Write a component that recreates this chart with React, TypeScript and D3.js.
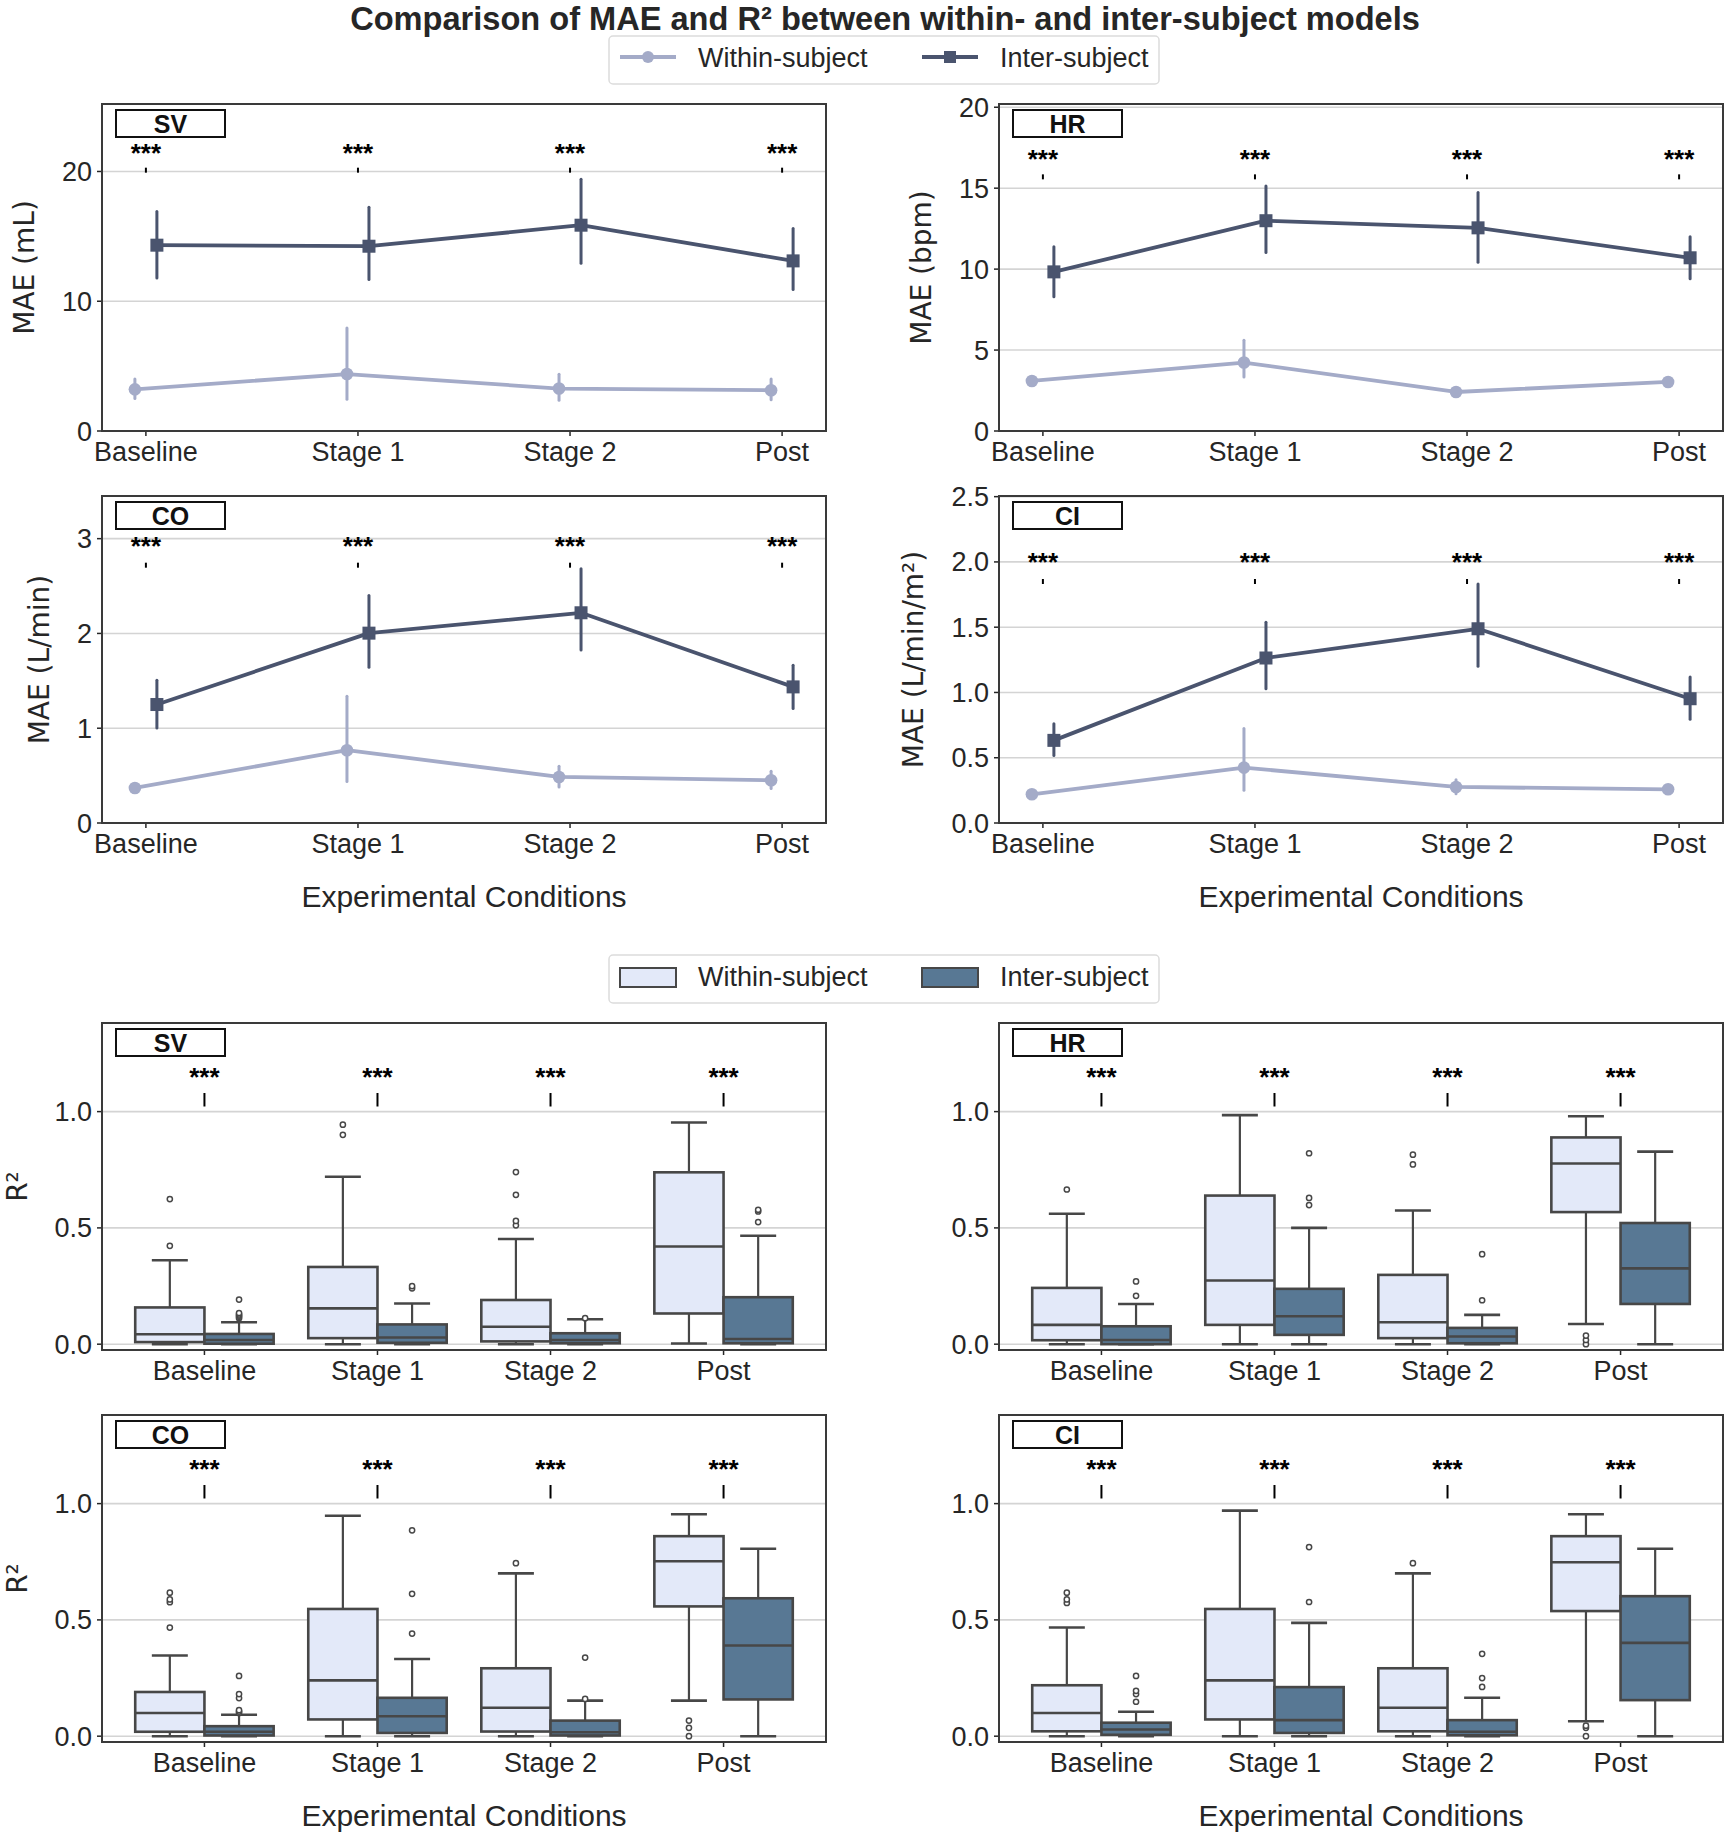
import React, { useEffect, useRef } from 'react';
import * as d3 from 'd3';

const conditions = ['Baseline', 'Stage 1', 'Stage 2', 'Post'];
const groups = ['Within-subject', 'Inter-subject'];

// MAE means with 95% CI bounds, per condition
const svWithinMae = [3.21, 4.39, 3.27, 3.14];
const svWithinLo = [2.5, 2.44, 2.37, 2.4];
const svWithinHi = [4.0, 7.94, 4.37, 4.0];
const svInterMae = [14.32, 14.24, 15.86, 13.11];
const svInterLo = [11.8, 11.67, 12.93, 10.9];
const svInterHi = [16.92, 17.25, 19.4, 15.6];

const hrWithinMae = [3.09, 4.23, 2.41, 3.03];
const hrWithinLo = [2.85, 3.34, 2.25, 2.85];
const hrWithinHi = [3.3, 5.61, 2.55, 3.2];
const hrInterMae = [9.83, 12.99, 12.55, 10.7];
const hrInterLo = [8.29, 11.03, 10.43, 9.4];
const hrInterHi = [11.38, 15.13, 14.74, 12.0];

const coWithinMae = [0.37, 0.768, 0.486, 0.451];
const coWithinLo = [0.35, 0.437, 0.38, 0.363];
const coWithinHi = [0.4, 1.338, 0.599, 0.546];
const coInterMae = [1.25, 2.003, 2.218, 1.436];
const coInterLo = [1.003, 1.644, 1.824, 1.208];
const coInterHi = [1.507, 2.401, 2.682, 1.665];

const ciWithinMae = [0.22, 0.424, 0.276, 0.258];
const ciWithinLo = [0.205, 0.25, 0.225, 0.24];
const ciWithinHi = [0.235, 0.723, 0.332, 0.275];
const ciInterMae = [0.633, 1.264, 1.488, 0.952];
const ciInterLo = [0.518, 1.029, 1.2, 0.794];
const ciInterHi = [0.761, 1.537, 1.83, 1.118];

// R² box stats per condition: [whisker low, Q1, median, Q3, whisker high]
const svR2Within = [
  [0, 0.009, 0.043, 0.158, 0.361],
  [0, 0.026, 0.154, 0.332, 0.72],
  [0, 0.012, 0.075, 0.19, 0.452],
  [0.003, 0.132, 0.42, 0.739, 0.953],
];
const svR2WithinOut = [[0.423, 0.624], [0.9, 0.944], [0.511, 0.53, 0.642, 0.74], []];
const svR2Inter = [
  [0, 0.002, 0.018, 0.044, 0.094],
  [0, 0.006, 0.029, 0.085, 0.175],
  [0, 0.004, 0.018, 0.047, 0.107],
  [0, 0.004, 0.022, 0.202, 0.466],
];
const svR2InterOut = [[0.112, 0.118, 0.123, 0.128, 0.134, 0.192], [0.24, 0.25], [0.112], [0.525, 0.571, 0.578]];

const hrR2Within = [
  [0, 0.017, 0.083, 0.242, 0.561],
  [0, 0.083, 0.274, 0.639, 0.985],
  [0, 0.026, 0.094, 0.298, 0.575],
  [0.087, 0.568, 0.777, 0.889, 0.98],
];
const hrR2WithinOut = [[0.665], [], [0.773, 0.815], [0.0, 0.018, 0.037]];
const hrR2Inter = [
  [0, 0.0, 0.018, 0.077, 0.173],
  [0, 0.04, 0.12, 0.238, 0.5],
  [0, 0.004, 0.033, 0.07, 0.126],
  [0, 0.173, 0.326, 0.521, 0.828],
];
const hrR2InterOut = [[0.208, 0.27], [0.598, 0.629, 0.821], [0.189, 0.387], []];

const coR2Within = [
  [0, 0.019, 0.1, 0.19, 0.347],
  [0, 0.072, 0.24, 0.547, 0.948],
  [0, 0.02, 0.122, 0.292, 0.7],
  [0.153, 0.558, 0.752, 0.86, 0.954],
];
const coR2WithinOut = [[0.467, 0.576, 0.588, 0.617], [], [0.744], [0, 0.036, 0.067]];
const coR2Inter = [
  [0, 0.003, 0.019, 0.043, 0.092],
  [0, 0.014, 0.086, 0.165, 0.332],
  [0, 0.003, 0.017, 0.067, 0.153],
  [0, 0.158, 0.39, 0.593, 0.806],
];
const coR2InterOut = [[0.1, 0.106, 0.112, 0.164, 0.181, 0.259], [0.441, 0.612, 0.885], [0.16, 0.338], []];

const ciR2Within = [
  [0, 0.021, 0.1, 0.219, 0.467],
  [0, 0.072, 0.24, 0.547, 0.97],
  [0, 0.021, 0.122, 0.292, 0.7],
  [0.064, 0.538, 0.748, 0.86, 0.954],
];
const ciR2WithinOut = [[0.573, 0.588, 0.617], [], [0.744], [0, 0.036, 0.045]];
const ciR2Inter = [
  [0, 0.006, 0.029, 0.058, 0.105],
  [0, 0.014, 0.069, 0.211, 0.487],
  [0, 0.004, 0.019, 0.069, 0.165],
  [0, 0.155, 0.401, 0.602, 0.806],
];
const ciR2InterOut = [[0.148, 0.181, 0.195, 0.259], [0.577, 0.813], [0.212, 0.25, 0.354], []];

const W = 1725;
const H = 1833;
const PW = 724;
const PH = 327;
const SANS = '"Liberation Sans", Arial, Helvetica, sans-serif';
const DEJAVU = '"DejaVu Sans", sans-serif';
const INK = '#262626';
const lineColors = ['#a4abc8', '#4a546e'];
const boxFills = ['#e3e9f9', '#587894'];
const EDGE = '#474747';
const GRID = '#d4d4d4';

const maePanels = [
  { name: 'SV', left: 102, top: 104, yMax: 25.2, ticks: [0, 10, 20], fmt: d3.format('d'), ylabel: 'MAE (mL)', labelX: 34, starY: 21.7, markY: 20.1, xlabel: false,
    mean: [svWithinMae, svInterMae], lo: [svWithinLo, svInterLo], hi: [svWithinHi, svInterHi] },
  { name: 'HR', left: 999, top: 104, yMax: 20.2, ticks: [0, 5, 10, 15, 20], fmt: d3.format('d'), ylabel: 'MAE (bpm)', labelX: 931, starY: 17.05, markY: 15.7, xlabel: false,
    mean: [hrWithinMae, hrInterMae], lo: [hrWithinLo, hrInterLo], hi: [hrWithinHi, hrInterHi] },
  { name: 'CO', left: 102, top: 496, yMax: 3.45, ticks: [0, 1, 2, 3], fmt: d3.format('d'), ylabel: 'MAE (L/min)', labelX: 49, starY: 2.96, markY: 2.72, xlabel: true,
    mean: [coWithinMae, coInterMae], lo: [coWithinLo, coInterLo], hi: [coWithinHi, coInterHi] },
  { name: 'CI', left: 999, top: 496, yMax: 2.505, ticks: [0, 0.5, 1, 1.5, 2, 2.5], fmt: d3.format('.1f'), ylabel: 'MAE (L/min/m²)', labelX: 923, starY: 2.03, markY: 1.85, xlabel: true,
    mean: [ciWithinMae, ciInterMae], lo: [ciWithinLo, ciInterLo], hi: [ciWithinHi, ciInterHi] },
];

const boxPanels = [
  { name: 'SV', left: 102, top: 1023, ylabel: true, xlabel: false, stats: [svR2Within, svR2Inter], out: [svR2WithinOut, svR2InterOut] },
  { name: 'HR', left: 999, top: 1023, ylabel: false, xlabel: false, stats: [hrR2Within, hrR2Inter], out: [hrR2WithinOut, hrR2InterOut] },
  { name: 'CO', left: 102, top: 1415, ylabel: true, xlabel: true, stats: [coR2Within, coR2Inter], out: [coR2WithinOut, coR2InterOut] },
  { name: 'CI', left: 999, top: 1415, ylabel: false, xlabel: true, stats: [ciR2Within, ciR2Inter], out: [ciR2WithinOut, ciR2InterOut] },
];

function drawAxesCommon(g, x, y, ticks, fmt) {
  g.selectAll('.grid').data(ticks).enter().append('line')
    .attr('x1', 0).attr('x2', PW)
    .attr('y1', d => y(d)).attr('y2', d => y(d))
    .attr('stroke', GRID).attr('stroke-width', 1.6);

  g.selectAll('.ytick').data(ticks).enter().append('line')
    .attr('x1', -5).attr('x2', 0)
    .attr('y1', d => y(d)).attr('y2', d => y(d))
    .attr('stroke', INK).attr('stroke-width', 1.5);
  g.selectAll('.ylab').data(ticks).enter().append('text')
    .attr('x', -10).attr('y', d => y(d) + 9.5)
    .attr('text-anchor', 'end')
    .style('font-family', SANS).style('font-size', '27px').style('fill', INK)
    .text(d => fmt(d));

  g.selectAll('.xtick').data(conditions).enter().append('line')
    .attr('x1', d => x(d)).attr('x2', d => x(d))
    .attr('y1', PH).attr('y2', PH + 5)
    .attr('stroke', INK).attr('stroke-width', 1.5);
  g.selectAll('.xlab').data(conditions).enter().append('text')
    .attr('x', d => x(d)).attr('y', PH + 29.5)
    .attr('text-anchor', 'middle')
    .style('font-family', SANS).style('font-size', '27px').style('fill', INK)
    .text(d => d);
}

function drawFrameAndTag(g, name) {
  g.append('rect')
    .attr('x', 0).attr('y', 0).attr('width', PW).attr('height', PH)
    .attr('fill', 'none').attr('stroke', '#3a3a3a').attr('stroke-width', 2);
  g.append('rect')
    .attr('x', 14).attr('y', 6).attr('width', 109).attr('height', 27)
    .attr('fill', 'white').attr('stroke', '#111').attr('stroke-width', 2);
  g.append('text')
    .attr('x', 68.5).attr('y', 29)
    .attr('text-anchor', 'middle')
    .style('font-family', SANS).style('font-size', '25px').style('font-weight', 'bold').style('fill', '#111')
    .text(name);
}

function drawStars(g, x, starPx, markTop, markBottom) {
  conditions.forEach(c => {
    g.append('text')
      .attr('x', x(c)).attr('y', starPx + 13)
      .attr('text-anchor', 'middle')
      .style('font-family', SANS).style('font-size', '26px').style('font-weight', 'bold').style('fill', '#000')
      .text('***');
    g.append('line')
      .attr('x1', x(c)).attr('x2', x(c))
      .attr('y1', markTop).attr('y2', markBottom)
      .attr('stroke', '#000').attr('stroke-width', 2);
  });
}

function drawXLabel(g) {
  g.append('text')
    .attr('x', PW / 2).attr('y', PH + 84)
    .attr('text-anchor', 'middle')
    .style('font-family', SANS).style('font-size', '30px').style('fill', INK)
    .text('Experimental Conditions');
}

function drawMaePanel(svg, p) {
  const g = svg.append('g').attr('transform', `translate(${p.left}, ${p.top})`);
  const x = d3.scalePoint().domain(conditions).range([0, PW]).padding(0.207);
  const y = d3.scaleLinear().domain([0, p.yMax]).range([PH, 0]);
  const dodge = [-11, 11];

  drawAxesCommon(g, x, y, p.ticks, p.fmt);

  groups.forEach((grp, gi) => {
    const color = lineColors[gi];
    const pts = conditions.map((c, i) => [x(c) + dodge[gi], y(p.mean[gi][i])]);
    g.append('path')
      .attr('d', d3.line()(pts))
      .attr('fill', 'none').attr('stroke', color).attr('stroke-width', 3.8)
      .attr('stroke-linejoin', 'round');
    conditions.forEach((c, i) => {
      g.append('line')
        .attr('x1', x(c) + dodge[gi]).attr('x2', x(c) + dodge[gi])
        .attr('y1', y(p.lo[gi][i])).attr('y2', y(p.hi[gi][i]))
        .attr('stroke', color).attr('stroke-width', 3).attr('stroke-linecap', 'round');
    });
    if (gi === 0) {
      g.selectAll(`.mk${gi}`).data(p.mean[gi]).enter().append('circle')
        .attr('cx', (d, i) => x(conditions[i]) + dodge[gi]).attr('cy', d => y(d))
        .attr('r', 6.3).attr('fill', color);
    } else {
      g.selectAll(`.mk${gi}`).data(p.mean[gi]).enter().append('rect')
        .attr('x', (d, i) => x(conditions[i]) + dodge[gi] - 6.5).attr('y', d => y(d) - 6.5)
        .attr('width', 13).attr('height', 13).attr('fill', color);
    }
  });

  drawFrameAndTag(g, p.name);
  drawStars(g, x, y(p.starY), y(p.markY) - 2.5, y(p.markY) + 2.5);

  g.append('text')
    .attr('transform', `translate(${p.labelX - p.left}, ${PH / 2}) rotate(-90)`)
    .attr('text-anchor', 'middle')
    .style('font-family', DEJAVU).style('font-size', '28px').style('fill', INK)
    .text(p.ylabel);

  if (p.xlabel) drawXLabel(g);
}

function drawBoxPanel(svg, p) {
  const g = svg.append('g').attr('transform', `translate(${p.left}, ${p.top})`);
  const x = d3.scalePoint().domain(conditions).range([0, PW]).padding(0.592);
  const y = d3.scaleLinear().domain([-0.025, 1.381]).range([PH, 0]);
  const bw = x.step() * 0.4;

  drawAxesCommon(g, x, y, [0, 0.5, 1], d3.format('.1f'));

  groups.forEach((grp, gi) => {
    conditions.forEach((c, i) => {
      const [lo, q1, med, q3, hi] = p.stats[gi][i];
      const x0 = x(c) + (gi === 0 ? -bw : 0);
      const cx = x0 + bw / 2;
      const cap = bw * 0.26;
      g.append('line').attr('x1', cx).attr('x2', cx).attr('y1', y(q3)).attr('y2', y(hi))
        .attr('stroke', EDGE).attr('stroke-width', 2.2);
      g.append('line').attr('x1', cx).attr('x2', cx).attr('y1', y(q1)).attr('y2', y(lo))
        .attr('stroke', EDGE).attr('stroke-width', 2.2);
      g.append('line').attr('x1', cx - cap).attr('x2', cx + cap).attr('y1', y(hi)).attr('y2', y(hi))
        .attr('stroke', EDGE).attr('stroke-width', 2.6);
      g.append('line').attr('x1', cx - cap).attr('x2', cx + cap).attr('y1', y(lo)).attr('y2', y(lo))
        .attr('stroke', EDGE).attr('stroke-width', 2.6);
      g.append('rect')
        .attr('x', x0).attr('y', y(q3)).attr('width', bw).attr('height', Math.max(0.5, y(q1) - y(q3)))
        .attr('fill', boxFills[gi]).attr('stroke', EDGE).attr('stroke-width', 2.6);
      g.append('line').attr('x1', x0).attr('x2', x0 + bw).attr('y1', y(med)).attr('y2', y(med))
        .attr('stroke', EDGE).attr('stroke-width', 2.6);
      g.selectAll(`.out${gi}${i}`).data(p.out[gi][i]).enter().append('circle')
        .attr('cx', cx).attr('cy', d => y(d)).attr('r', 2.6)
        .attr('fill', 'white').attr('stroke', EDGE).attr('stroke-width', 1.5);
    });
  });

  drawFrameAndTag(g, p.name);
  drawStars(g, x, y(1.166), y(1.08), y(1.022));

  if (p.ylabel) {
    g.append('text')
      .attr('transform', `translate(${27 - p.left}, ${PH / 2}) rotate(-90)`)
      .attr('text-anchor', 'middle')
      .style('font-family', DEJAVU).style('font-size', '28px').style('fill', INK)
      .text('R²');
  }
  if (p.xlabel) drawXLabel(g);
}

function drawLegend(svg, top, kind) {
  const g = svg.append('g').attr('transform', `translate(609, ${top})`);
  g.append('rect')
    .attr('x', 0).attr('y', 0).attr('width', 550).attr('height', 48).attr('rx', 4)
    .attr('fill', 'white').attr('stroke', '#dcdcdc').attr('stroke-width', 1.5);
  const handleX = [11, 313];
  groups.forEach((grp, gi) => {
    const hx = handleX[gi];
    if (kind === 'line') {
      g.append('line').attr('x1', hx).attr('x2', hx + 56).attr('y1', 21).attr('y2', 21)
        .attr('stroke', lineColors[gi]).attr('stroke-width', 3.8);
      if (gi === 0) {
        g.append('circle').attr('cx', hx + 28).attr('cy', 21).attr('r', 6).attr('fill', lineColors[gi]);
      } else {
        g.append('rect').attr('x', hx + 22).attr('y', 15).attr('width', 12).attr('height', 12).attr('fill', lineColors[gi]);
      }
    } else {
      g.append('rect').attr('x', hx).attr('y', 13).attr('width', 56).attr('height', 19)
        .attr('fill', boxFills[gi]).attr('stroke', EDGE).attr('stroke-width', 2);
    }
    g.append('text')
      .attr('x', hx + 78).attr('y', 31)
      .style('font-family', SANS).style('font-size', '27px').style('fill', INK)
      .text(grp);
  });
}

const App = () => {
  const ref = useRef(null);

  useEffect(() => {
    document.body.style.margin = '0';
    const svg = d3.select(ref.current);
    svg.selectAll('*').remove();

    svg.append('rect').attr('width', W).attr('height', H).attr('fill', 'white');

    svg.append('text')
      .attr('x', 885).attr('y', 30)
      .attr('text-anchor', 'middle')
      .style('font-family', SANS).style('font-size', '32.6px').style('font-weight', 'bold').style('fill', INK)
      .text('Comparison of MAE and R² between within- and inter-subject models');

    drawLegend(svg, 36, 'line');
    maePanels.forEach(p => drawMaePanel(svg, p));
    drawLegend(svg, 955, 'box');
    boxPanels.forEach(p => drawBoxPanel(svg, p));
  }, []);

  return <svg ref={ref} width={W} height={H} style={{ display: 'block' }}></svg>;
};

export default App;
